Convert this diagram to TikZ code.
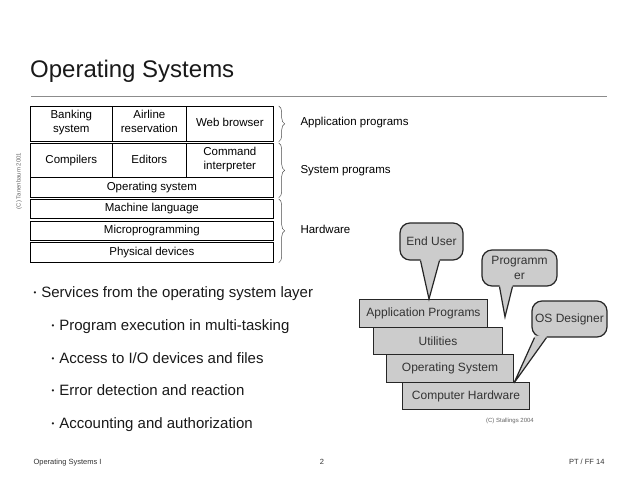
\documentclass[tikz,border=0pt]{standalone}
\usepackage{fontspec}
\setmainfont{Liberation Sans}
\usetikzlibrary{decorations.pathreplacing}

\definecolor{layergray}{gray}{0.8}
\definecolor{rulegray}{gray}{0.55}
\definecolor{inkgray}{gray}{0.2}

\begin{document}
\begin{tikzpicture}[x = 1pt, y = -1pt,
    cell/.style = {draw, line width=0.7pt, anchor=north west, inner sep=0pt,
        align=center, font=\fontsize{11.5}{14}\selectfont,
        execute at begin node=\strut, execute at end node=\strut},
    brace/.style = {decorate, decoration={brace, amplitude=6pt}, line width=0.5pt, black!70},
    side/.style = {anchor=west, font=\fontsize{11.5}{14}\selectfont},
    layer/.style = {draw=black!85, fill=layergray, line width=1pt, anchor=north west,
        inner sep=0pt, text=inkgray, font=\fontsize{12}{14}\selectfont},
    bubble/.style = {draw=black!85, fill=layergray, line width=1.2pt, rounded corners=10pt,
        inner sep=0pt, align=center, text=inkgray, font=\fontsize{12}{15}\selectfont},
    item/.style = {anchor=base west, text=black!90, font=\fontsize{15}{18}\selectfont},
    credit/.style = {text=black!60, font=\fontsize{6}{7}\selectfont},
    foot/.style = {anchor=base, text=black!80, font=\fontsize{7.5}{9}\selectfont}
]

    \def\dotmark{\raisebox{1.5pt}{\fontsize{8}{8}\selectfont\textbullet}\hspace{5pt}}
    \def\drawPointer#1#2#3#4{
        \fill [layergray] ([xshift=#2, yshift=2]#1.south) -- ([xshift=#2]#1.south)
            -- (#4) -- ([xshift=#3]#1.south) -- ([xshift=#3, yshift=2]#1.south) -- cycle;
        \draw [black!85, line width=1.2pt, line join=miter]
            ([xshift=#2]#1.south) -- (#4) -- ([xshift=#3]#1.south);
    }

    \fill [white] (0, 0) rectangle (638, 479);
    \useasboundingbox (0, 0) rectangle (638, 479);

    % Title
    \node [anchor=base west, inner sep=0pt, text=black!90, font=\fontsize{24}{28}\selectfont]
        (title) at (30, 77) {Operating Systems};
    \draw [rulegray, line width=0.8pt] (31, 96) -- (607, 96);

    % Layers after Tanenbaum
    \node [cell, minimum width=82, minimum height=35] (bank) at (30, 106) {Banking\\system};
    \node [cell, minimum width=74, minimum height=35] (air) at (112, 106) {Airline\\reservation};
    \node [cell, minimum width=87, minimum height=35] (web) at (186, 106) {Web browser};
    \node [cell, minimum width=82, minimum height=34] (comp) at (30, 143) {Compilers};
    \node [cell, minimum width=74, minimum height=34] (edit) at (112, 143) {Editors};
    \node [cell, minimum width=87, minimum height=34] (cmd) at (186, 143) {Command\\interpreter};
    \node [cell, minimum width=243, minimum height=20] (os) at (30, 177) {Operating system};
    \node [cell, minimum width=243, minimum height=19] (mach) at (30, 199) {Machine language};
    \node [cell, minimum width=243, minimum height=19] (micro) at (30, 221) {Microprogramming};
    \node [cell, minimum width=243, minimum height=20] (phys) at (30, 242) {Physical devices};

    % Groups
    \draw [brace] ([xshift=5]web.north east) -- ([xshift=5]web.south east);
    \draw [brace] ([xshift=5]cmd.north east) -- ([xshift=5]os.south east);
    \draw [brace] ([xshift=5]mach.north east) -- ([xshift=5]phys.south east);
    \node [side] (appprog) at (297, 123) {Application programs};
    \node [side] (sysprog) at (297, 171) {System programs};
    \node [side] (hardw) at (297, 229) {Hardware};

    \node [credit, rotate=90] (tanen) at (19, 181) {(C) Tanenbaum 2001};

    % Services
    \node [item] (svc) at (30, 297) {\dotmark Services from the operating system layer};
    \node [item] (exec) at (48, 330) {\dotmark Program execution in multi-tasking};
    \node [item] (io) at (48, 363) {\dotmark Access to I/O devices and files};
    \node [item] (err) at (48, 395) {\dotmark Error detection and reaction};
    \node [item] (acct) at (48, 428) {\dotmark Accounting and authorization};

    % Layers after Stallings
    \node [layer, minimum width=127, minimum height=27] (hw) at (402, 382) {Computer Hardware};
    \node [layer, minimum width=127, minimum height=28] (ossys) at (386, 354) {Operating System};
    \node [layer, minimum width=129, minimum height=27] (util) at (373, 327) {Utilities};
    \node [layer, minimum width=128, minimum height=28] (apps) at (359, 299) {Application Programs};

    % Users
    \node [bubble, minimum width=63, minimum height=37] (enduser) at (431.5, 241.5) {End User};
    \node [bubble, minimum width=75, minimum height=36] (progr) at (519.5, 268) {Programm\\er};
    \node [bubble, minimum width=75, minimum height=36] (osdes) at (569.5, 319) {OS Designer};
    \coordinate (eutip) at (429, 299);
    \coordinate (prtip) at (505, 317);
    \coordinate (ostip) at (ossys.south east);
    \drawPointer{enduser}{-11}{8}{eutip}
    \drawPointer{progr}{-20}{-7}{prtip}
    \drawPointer{osdes}{-35}{-23}{ostip}

    \node [credit] (stall) at (510, 421) {(C) Stallings 2004};

    % Footer
    \node [foot, anchor=base west] (course) at (30, 464) {Operating Systems I};
    \node [foot] (page) at (322, 464) {2};
    \node [foot, anchor=base east] (author) at (608, 464) {PT / FF 14};
\end{tikzpicture}
\end{document}
